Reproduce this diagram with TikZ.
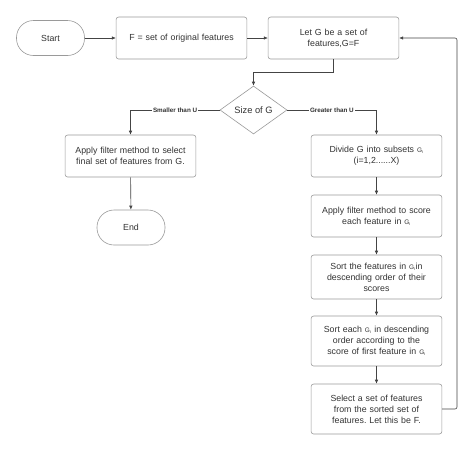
\documentclass[tikz,border=0pt]{standalone}
\usepackage{fontspec}
\setmainfont{Liberation Sans}
\usetikzlibrary{shapes.geometric,arrows.meta}
\definecolor{bordc}{HTML}{9A9A9A}
\definecolor{linec}{HTML}{444444}
\definecolor{txtc}{HTML}{333333}
\frenchspacing
\newcommand{\Gi}{{\fontsize{6.5}{6.5}\selectfont G}\textsubscript{\fontsize{4}{4}\selectfont i}}
\begin{document}
\begin{tikzpicture}[x=1pt,y=-1pt,
  box/.style={draw=bordc,rounded corners=2.5pt,minimum width=127pt,text width=124pt,align=center,font=\fontsize{8.8}{11}\selectfont,text=txtc,line width=0.6pt},
  pill/.style={draw=bordc,rounded corners=17pt,minimum width=68pt,minimum height=35pt,font=\fontsize{8.8}{11}\selectfont,text=txtc,line width=0.6pt},
  dia/.style={draw=bordc,diamond,aspect=1.4,minimum width=67pt,minimum height=48pt,inner sep=0pt,font=\fontsize{9.3}{11}\selectfont,text=txtc,line width=0.6pt},
  conn/.style={draw=linec,line width=0.6pt,-{Latex[length=4pt,width=3.5pt]}},
  lab/.style={font=\bfseries\fontsize{6.3}{7}\selectfont,text=txtc,fill=white,inner sep=1pt}]
\useasboundingbox (0,0) rectangle (474,451);
\fill[white] (0,0) rectangle (474,451);
\node[pill] (start) at (50.5,38) {Start};
\node[box,minimum height=42pt] (F) at (181.5,38) {F = set of original features};
\node[box,minimum height=42pt] (G) at (333.5,38) {Let G be a set of\\features,G=F};
\node[dia] (D) at (253.5,110) {Size of G};
\node[box,minimum height=42pt] (L) at (130.5,156) {Apply filter method to select\\final set of features from G.};
\node[pill] (E) at (131,227.5) {End};
\node[box,minimum height=42pt] (R1) at (376.5,156) {Divide G into subsets \Gi\\(i=1,2......X)};
\node[box,minimum height=42pt] (R2) at (376.5,216) {Apply filter method to score\\each feature in \Gi};
\node[box,minimum height=44pt] (R3) at (376.5,277) {Sort the features in \Gi in\\descending order of their\\scores};
\node[box,minimum height=50pt] (R4) at (376.5,341) {Sort each \Gi{} in descending\\order according to the\\score of first feature in \Gi};
\node[box,minimum height=50pt] (R5) at (376.5,409) {Select a set of features\\from the sorted set of\\features. Let this be F.};
\draw[conn] (start) -- (F);
\draw[conn] (F) -- (G);
\draw[conn] (G.south) -- ++(0,13) -| (D.north);
\draw[conn] (D.west) -| node[lab,pos=0.25] {Smaller than U} (L.north);
\draw[conn] (D.east) -| node[lab,pos=0.25] {Greater than U} (R1.north);
\draw[conn] (L) -- (E);
\draw[conn] (R1) -- (R2);
\draw[conn] (R2) -- (R3);
\draw[conn] (R3) -- (R4);
\draw[conn] (R4) -- (R5);
\coordinate (lp) at (457,409);
\draw[conn,rounded corners=2pt] (R5.east) -- (lp) |- (G.east);
\end{tikzpicture}
\end{document}
